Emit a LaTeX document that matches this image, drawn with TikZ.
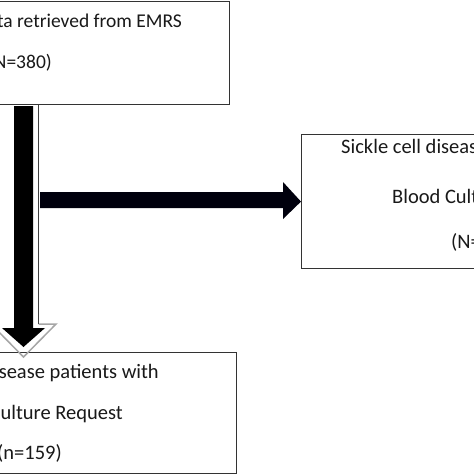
\documentclass[tikz,border=0pt]{standalone}
\usepackage{fontspec}
\setmainfont{Carlito}
\usetikzlibrary{calc}
\tikzset{
  boxstyle/.style={draw=black!80, line width=1.2pt, fill=white, rectangle, inner sep=0pt},
  txt/.style={inner sep=0pt, font=\fontsize{20.5}{24}\selectfont, text=black!90},
  txttop/.style={txt, font=\fontsize{19.5}{23}\selectfont},
}
\begin{document}
\begin{tikzpicture}[x=1pt,y=-1pt]
\useasboundingbox (0,0) rectangle (474,474);
\clip (0,0) rectangle (474,474);
\fill[white] (0,0) rectangle (474,474);
% boxes
\node[boxstyle, minimum width=480pt, minimum height=103pt, anchor=north east] (top) at (230,1) {};
\node[boxstyle, minimum width=300pt, minimum height=134pt, anchor=north west] (right) at (301,134) {};
\node[boxstyle, minimum width=480pt, minimum height=121pt, anchor=north east] (bot) at (237,352) {};
% texts
\node[txttop, anchor=base east] (t1) at (182,27) {Data retrieved from EMRS};
\node[txttop, anchor=base east] (t2) at (52,68) {(N=380)};
\node[txt, anchor=base west] (r1) at (341,153) {Sickle cell disease patients without};
\node[txt, anchor=base west] (r2) at (392,203) {Blood Culture Request};
\node[txt, anchor=base west] (r3) at (451,248) {(N=221)};
\node[txt, anchor=base east] (b1) at (159,378) {Sickle cell disease patients with};
\node[txt, anchor=base east] (b2) at (123,419) {Blood Culture Request};
\node[txt, anchor=base east] (b3) at (62,459) {(n=159)};
% vertical block arrow from top box to bottom box
\coordinate (vx) at (23.5,0);
\coordinate (lx) at (38.5,0);
\coordinate (vtip) at ($(vx |- bot.north)+(0,-5)$);
\coordinate (otip) at ($(vx |- bot.north)+(0,5)$);
\draw[black!35, line width=1.5pt, line join=miter]
  (38.5,324) -- (56,324) -- (otip) -- (-9,324);
\draw[black!75, line width=1.3pt] (lx |- top.south) -- (38.5,324);
\fill[black]
  (14,106) -- (33,106) -- (33,328) -- (45,328) -- (vtip) -- (2,328) -- (14,328) -- cycle;
% horizontal block arrow to right box
\fill[black!95!blue]
  (40,192) -- (283,192) -- (283,182) -- (right.west) -- (283,219) -- (283,208) -- (40,208) -- cycle;
\end{tikzpicture}
\end{document}
